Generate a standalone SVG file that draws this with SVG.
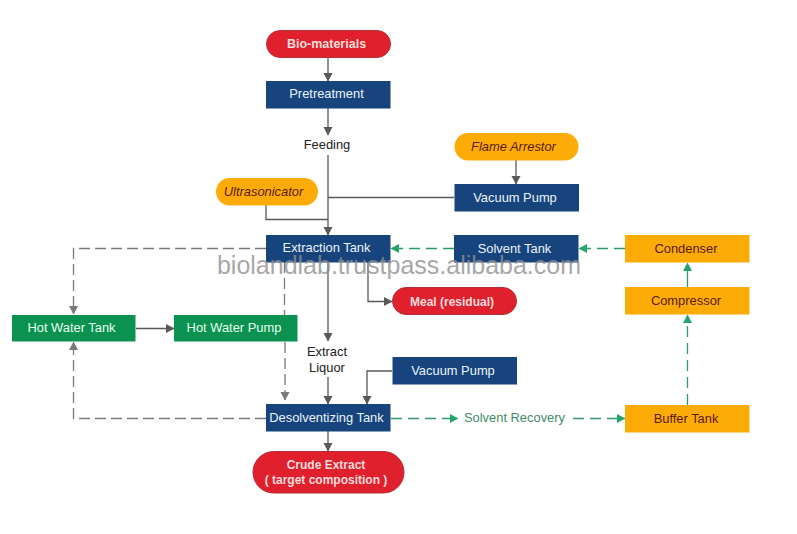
<svg xmlns="http://www.w3.org/2000/svg" width="797" height="534" viewBox="0 0 797 534">
<style>
text{font-family:"Liberation Sans",Arial,sans-serif;font-size:12.900px;text-anchor:middle}
.blue{fill:#17447c}.green{fill:#0b9150}.amber{fill:#fdab07}.red{fill:#e0202c;stroke:#b0303a;stroke-width:1}
.w{fill:#eaf3fb}.d{fill:#5b1a0a}.g{fill:#e6fff0}.rt{fill:#fbdcdc;font-weight:bold;font-size:12px}.k{fill:#222}
.l{fill:none;stroke:#595959;stroke-width:1.3}
.dg{fill:none;stroke:#7a7a7a;stroke-width:1.3;stroke-dasharray:11 5}
.dn{fill:none;stroke:#2e9a68;stroke-width:1.3;stroke-dasharray:11 6}
</style>
<defs>
<marker id="a" markerUnits="userSpaceOnUse" markerWidth="9" markerHeight="10" refX="8" refY="5" orient="auto"><path d="M0 0.500L8.500 5L0 9.500Z" fill="#595959"/></marker>
<marker id="b" markerUnits="userSpaceOnUse" markerWidth="9" markerHeight="10" refX="8" refY="5" orient="auto"><path d="M0 0.500L8.500 5L0 9.500Z" fill="#7a7a7a"/></marker>
<marker id="c" markerUnits="userSpaceOnUse" markerWidth="9" markerHeight="10" refX="8" refY="5" orient="auto"><path d="M0 0.500L8.500 5L0 9.500Z" fill="#24a56c"/></marker>
</defs>
<rect width="797" height="534" fill="#fff"/>
<g id="connectors">
<path class="l" marker-end="url(#a)" d="M328 57V81"/>
<path class="l" marker-end="url(#a)" d="M328 108V135"/>
<path class="l" marker-end="url(#a)" d="M328 155V235"/>
<path class="l" d="M454 197.500H328"/>
<path class="l" d="M266 205V219.500H328"/>
<path class="l" marker-end="url(#a)" d="M516 160V184"/>
<path class="l" marker-end="url(#a)" d="M328 262V341"/>
<path class="l" marker-end="url(#a)" d="M368 262V301.500H392"/>
<path class="l" marker-end="url(#a)" d="M136 328.500H174"/>
<path class="l" marker-end="url(#a)" d="M328 377V404"/>
<path class="l" marker-end="url(#a)" d="M392 371H367V404"/>
<path class="l" marker-end="url(#a)" d="M328 431V451"/>
<path class="dg" marker-end="url(#b)" d="M266 248.500H73.500V314"/>
<path class="dg" d="M284.500 262V315"/>
<path class="dg" marker-end="url(#b)" d="M285 342V400"/>
<path class="dg" marker-end="url(#b)" d="M266 418.500H73.500V342"/>
<path class="dn" marker-end="url(#c)" d="M454 248.500H391"/>
<path class="dn" marker-end="url(#c)" d="M625 248.500H579"/>
<path class="l" style="stroke:#2e9a68" d="M687.500 287V276"/>
<path class="dn" marker-end="url(#c)" d="M687.500 276V263"/>
<path class="dn" marker-end="url(#c)" d="M687.500 405V315"/>
<path class="dn" marker-end="url(#c)" d="M391 418.500H458"/>
<path class="dn" marker-end="url(#c)" d="M573 418.500H625"/>
</g>
<g id="bio-materials"><rect class="red" x="266.500" y="30.500" width="124" height="27" rx="13.500"/><text class="rt" x="326.500" y="48" style="font-size:12.500px">Bio-materials</text></g>
<g id="pretreatment"><rect class="blue" x="266" y="81" width="124.500" height="27.500"/><text class="w" x="326.500" y="98">Pretreatment</text></g>
<g id="feeding"><text class="k" x="327" y="149">Feeding</text></g>
<g id="flame-arrestor"><rect class="amber" x="454.500" y="133" width="124" height="27.500" rx="13.700"/><text class="d" x="513.500" y="151" font-style="italic">Flame Arrestor</text></g>
<g id="vacuum-pump-1"><rect class="blue" x="454.500" y="184" width="124.500" height="27.500"/><text class="w" x="515" y="202">Vacuum Pump</text></g>
<g id="ultrasonicator"><rect class="amber" x="216" y="178" width="102" height="27.500" rx="13.700"/><text class="d" x="263.500" y="196" font-style="italic">Ultrasonicator</text></g>
<g id="extraction-tank"><rect class="blue" x="266" y="235" width="124.500" height="27.500"/><text class="w" x="326.500" y="252">Extraction Tank</text></g>
<g id="solvent-tank"><rect class="blue" x="454" y="235" width="124.500" height="27.500"/><text class="w" x="514.500" y="253">Solvent Tank</text></g>
<g id="condenser"><rect class="amber" x="625" y="235" width="124.500" height="27.500"/><text class="d" x="686" y="253">Condenser</text></g>
<g id="compressor"><rect class="amber" x="625" y="287" width="124.500" height="27.500"/><text class="d" x="686" y="305">Compressor</text></g>
<g id="meal"><rect class="red" x="392.500" y="287.500" width="124" height="27" rx="13.500"/><text class="rt" x="452" y="306">Meal (residual)</text></g>
<g id="hot-water-tank"><rect class="green" x="12" y="315" width="123.500" height="26.500"/><text class="g" x="71.500" y="332">Hot Water Tank</text></g>
<g id="hot-water-pump"><rect class="green" x="174" y="315" width="123.500" height="26.500"/><text class="g" x="234" y="332">Hot Water Pump</text></g>
<g id="extract-liquor"><text class="k" x="327" y="356">Extract</text><text class="k" x="327" y="372">Liquor</text></g>
<g id="vacuum-pump-2"><rect class="blue" x="392.500" y="357" width="124.500" height="27.500"/><text class="w" x="453" y="375">Vacuum Pump</text></g>
<g id="desolventizing-tank"><rect class="blue" x="266" y="404" width="124.500" height="27.500"/><text class="w" x="326.500" y="422">Desolventizing Tank</text></g>
<g id="solvent-recovery"><text x="514.500" y="422" fill="#3f8a68">Solvent Recovery</text></g>
<g id="buffer-tank"><rect class="amber" x="625" y="405" width="124.500" height="27.500"/><text class="d" x="686" y="423">Buffer Tank</text></g>
<g id="crude-extract"><rect class="red" x="253" y="451.500" width="151" height="41.500" rx="20.700"/><text class="rt" x="326" y="469">Crude Extract</text><text class="rt" x="326" y="484">( target composition )</text></g>
<text x="399" y="274" fill="#8f8f8f" fill-opacity=".8" style="font-size:25px">biolandlab.trustpass.alibaba.com</text>
</svg>
